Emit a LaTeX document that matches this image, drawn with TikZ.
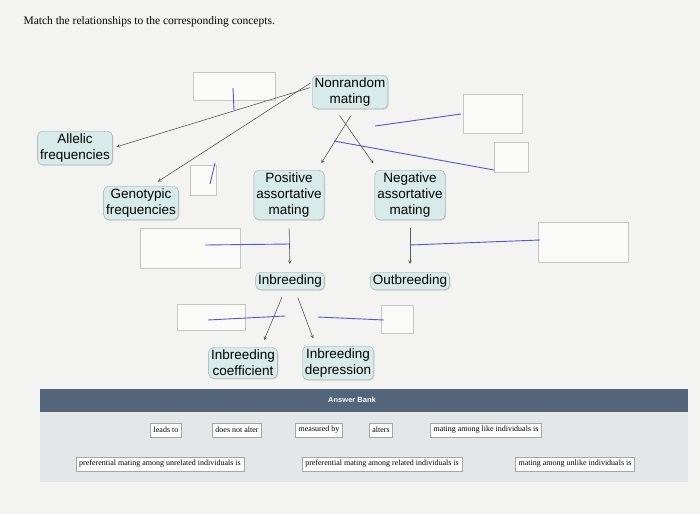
\documentclass[tikz,border=0pt]{standalone}
\usepackage{fontspec}
\setmainfont{Liberation Serif}
\setsansfont{Liberation Sans}
\usetikzlibrary{shadows}
\definecolor{bg}{HTML}{F3F3F1}
\definecolor{cfill}{HTML}{D8EBEB}
\definecolor{bankhead}{HTML}{52657A}
\definecolor{bankbg}{HTML}{E4E6E8}
\definecolor{ublue}{HTML}{4B5BD0}
\begin{document}
\begin{tikzpicture}[x=1pt,y=-1pt,
  concept/.style={draw=gray!70,fill=cfill,rounded corners=5pt,align=center,font=\sffamily\fontsize{13.5}{16}\selectfont,inner sep=2.5pt,drop shadow={opacity=0.25,shadow xshift=1pt,shadow yshift=-1pt}},
  target/.style={draw=gray!45,fill=white!60!bg,anchor=north west},
  arr/.style={draw=gray!70!black,->,>=stealth,line width=0.6pt,shorten <=8pt,shorten >=8pt},
  ans/.style={line width=0.9pt,draw=ublue},
  chip/.style={draw=gray!70,fill=white,font=\fontsize{8}{9}\selectfont,inner sep=3pt,minimum height=14pt}]
\fill[bg] (0,0) rectangle (700,514);
\node[anchor=west,font=\fontsize{11.5}{13}\selectfont] (title) at (20,22) {Match the relationships to the corresponding concepts.};
% drop targets
\node[target,minimum width=82pt,minimum height=28pt] (t1) at (193,72) {};
\node[target,minimum width=59pt,minimum height=39pt] (t2) at (463,94) {};
\node[target,minimum width=34pt,minimum height=30pt] (t3) at (494,142) {};
\node[target,minimum width=100pt,minimum height=40pt] (t4) at (140,228) {};
\node[target,minimum width=90pt,minimum height=40pt] (t5) at (538,222) {};
\node[target,minimum width=68pt,minimum height=26pt] (t6) at (177,304) {};
\node[target,minimum width=32pt,minimum height=28pt] (t7) at (381,305) {};
\node[target,minimum width=26pt,minimum height=30pt] (t8) at (190,165) {};
% concepts
\node[concept] (nr) at (350,92) {Nonrandom\\mating};
\node[concept] (al) at (75,148) {Allelic\\frequencies};
\node[concept] (ge) at (141,203) {Genotypic\\frequencies};
\node[concept] (pa) at (289,195) {Positive\\assortative\\mating};
\node[concept] (na) at (410,195) {Negative\\assortative\\mating};
\node[concept] (ib) at (290,281) {Inbreeding};
\node[concept] (ob) at (410,281) {Outbreeding};
\node[concept] (ic) at (243,363) {Inbreeding\\coefficient};
\node[concept] (id) at (338,363) {Inbreeding\\depression};
% connectors
\draw[arr,shorten <=2pt,shorten >=4pt] ([yshift=5pt]nr.west) -- (al.east);
\draw[arr,shorten <=2pt] ([yshift=10pt]nr.west) -- ([xshift=10pt]ge.north);
\draw[arr] ([xshift=5pt]nr.south) -- ([xshift=28pt]pa.north);
\draw[arr] ([xshift=-15pt]nr.south) -- ([xshift=-32pt]na.north);
\draw[arr] (pa.south) -- (ib.north);
\draw[arr] (na.south) -- (ob.north);
\draw[arr] ([xshift=-5pt]ib.south) -- ([xshift=18pt]ic.north);
\draw[arr] ([xshift=5pt]ib.south) -- ([xshift=-22pt]id.north);
% user answer lines
\draw[ans] (233,88) -- (234,110);
\draw[ans] (215,163) -- (210,184);
\draw[ans] (375,126) -- (461,114);
\draw[ans] (334,141) -- (494,170);
\draw[ans] (205,245) -- (290,244);
\draw[ans] (410,245) -- (540,240);
\draw[ans] (208,320) -- (285,316);
\draw[ans] (318,317) -- (384,320);
% answer bank
\fill[bankhead] (40,389) rectangle (688,412);
\node[text=white,font=\sffamily\bfseries\fontsize{7.5}{9}\selectfont] (abh) at (352,400) {Answer Bank};
\fill[bankbg] (40,412) rectangle (688,482);
\node[chip] (c1) at (166,430) {leads to};
\node[chip] (c2) at (237,430) {does not alter};
\node[chip] (c3) at (319,430) {measured by};
\node[chip] (c4) at (381,430) {alters};
\node[chip] (c5) at (486,430) {mating among like individuals is};
\node[chip] (c6) at (160,464) {preferential mating among unrelated individuals is};
\node[chip] (c7) at (382,464) {preferential mating among related individuals is};
\node[chip] (c8) at (575,464) {mating among unlike individuals is};
\end{tikzpicture}
\end{document}
